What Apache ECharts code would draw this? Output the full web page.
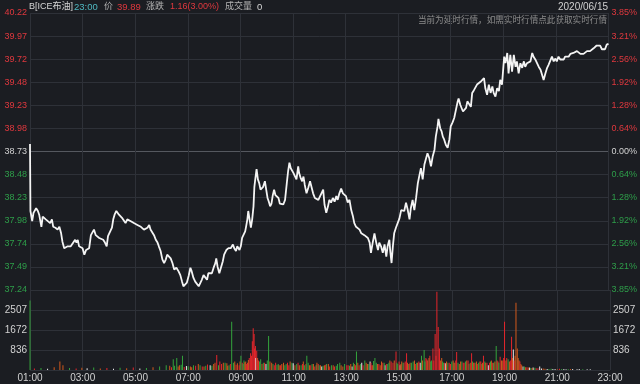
<!DOCTYPE html>
<html><head><meta charset="utf-8">
<script src="https://cdn.jsdelivr.net/npm/echarts@6/dist/echarts.min.js"></script>
<style>html,body{margin:0;padding:0;background:#1b1d22;}#c{width:640px;height:384px;}</style>
</head><body><div id="c"></div>
<script>
// ---- data ----
const prevClose = 38.73;
const priceTop = 40.22;
const timeLabels = ['01:00','03:00','05:00','07:00','09:00','11:00','13:00','15:00','17:00','19:00','21:00','23:00'];
const priceTickLabels = ['40.22','39.97','39.72','39.48','39.23','38.98','38.73','38.48','38.23','37.98','37.74','37.49','37.24'];
const pctTickLabels = ['3.85%','3.21%','2.56%','1.92%','1.28%','0.64%','0.00%','0.64%','1.28%','1.92%','2.56%','3.21%','3.85%'];
const volMax = 3343;
const volTickLabels = ['', '836', '1672', '2507', ''];
// [minutes after 01:00, price]
const priceData = [
[0,38.81],[1,38.09],[5,37.98],[8,38.07],[14,38.12],[18,38.09],[21,38.05],[26,37.92],[29,38.03],[33,38.05],[36,38.00],[40,38.01],[46,37.96],[50,38.00],[53,37.92],[58,37.91],[63,37.89],[67,37.92],[71,37.85],[74,37.76],[78,37.69],[82,37.67],[86,37.71],[90,37.69],[93,37.71],[97,37.69],[103,37.78],[106,37.75],[109,37.78],[112,37.71],[116,37.73],[120,37.69],[124,37.62],[128,37.67],[131,37.66],[135,37.69],[139,37.83],[143,37.82],[146,37.89],[150,37.83],[154,37.85],[158,37.80],[162,37.82],[167,37.78],[171,37.75],[175,37.71],[178,37.82],[182,37.83],[187,37.91],[190,38.00],[193,38.05],[197,38.09],[200,38.10],[203,38.05],[207,38.07],[211,38.01],[215,38.03],[218,37.96],[222,38.00],[226,38.02],[230,37.98],[234,38.00],[237,37.96],[241,37.98],[245,37.94],[249,37.96],[253,37.92],[256,37.92],[260,37.89],[264,37.87],[268,37.91],[272,37.94],[275,37.89],[279,37.91],[283,37.83],[287,37.78],[291,37.75],[294,37.71],[298,37.66],[302,37.57],[306,37.53],[310,37.57],[313,37.62],[317,37.64],[321,37.58],[325,37.53],[329,37.46],
[334,37.48],[339,37.44],[343,37.40],[347,37.33],[350,37.28],[354,37.26],[358,37.32],[362,37.39],[366,37.48],[369,37.44],[373,37.37],[377,37.33],[381,37.32],[385,37.28],[388,37.30],[392,37.35],[396,37.40],[400,37.39],[404,37.35],[407,37.42],[411,37.44],[415,37.42],[419,37.48],[423,37.53],[425,37.58],[428,37.49],[432,37.42],[435,37.44],[440,37.55],[443,37.62],[448,37.67],[453,37.69],[458,37.69],[463,37.73],[466,37.69],[470,37.66],[473,37.71],[478,37.67],[481,37.71],[484,37.80],[487,37.82],[491,37.87],[493,37.92],[496,38.00],[498,38.09],[501,38.00],[504,37.91],[507,38.00],[510,38.14],[512,38.35],[514,38.43],[517,38.54],[520,38.43],[523,38.39],[526,38.32],[529,38.30],[532,38.35],[536,38.41],[539,38.32],[542,38.23],[545,38.19],[548,38.14],[551,38.17],[554,38.26],[557,38.32],[560,38.26],[563,38.28],[567,38.23],[570,38.17],[574,38.19],[578,38.16],[582,38.21],[586,38.39],[589,38.52],[592,38.61],[595,38.55],[598,38.57],[601,38.50],[605,38.46],[608,38.43],[612,38.57],[614,38.50],[618,38.44],[621,38.41],[624,38.46],[627,38.37],[631,38.28],[635,38.34],[639,38.41],[643,38.43],[646,38.28],[650,38.23],[654,38.25],[658,38.21],[662,38.25],[665,38.28],[669,38.32],
[672,38.16],[676,38.07],[680,38.14],[683,38.21],[687,38.18],[691,38.23],[695,38.19],[699,38.25],[702,38.21],[706,38.28],[710,38.33],[714,38.28],[718,38.26],[721,38.25],[725,38.18],[729,38.21],[733,38.10],[737,38.03],[740,37.96],[744,37.92],[748,37.91],[752,37.89],[756,37.85],[759,37.87],[763,37.83],[767,37.82],[771,37.80],[775,37.75],[778,37.64],[782,37.75],[786,37.85],[790,37.75],[794,37.67],[797,37.75],[801,37.71],[805,37.64],[809,37.73],[813,37.60],[816,37.71],[820,37.78],[822,37.66],[825,37.53],[828,37.71],[831,37.85],[835,37.91],[839,37.89],[843,38.01],[847,38.10],[850,38.12],[854,38.09],[858,38.18],[862,38.10],[866,38.00],[869,38.12],[873,38.21],[877,38.10],[881,38.23],[885,38.39],[888,38.46],[892,38.55],[896,38.43],[900,38.59],[904,38.66],[907,38.71],[911,38.66],[915,38.57],[919,38.68],[923,38.75],[926,38.89],[930,39.00],[932,39.08],[936,38.98],[939,38.95],[942,38.89],[945,38.86],[949,38.80],[953,38.77],[957,38.86],[960,39.00],[964,39.04],[968,39.09],[972,39.18],[976,39.27],[978,39.30],[982,39.23],[985,39.21],[988,39.16],[992,39.14],[995,39.20],[998,39.27],[1002,39.25],[1006,39.21],
[1009,39.36],[1013,39.39],[1017,39.41],[1020,39.45],[1024,39.46],[1028,39.48],[1032,39.46],[1036,39.52],[1039,39.41],[1043,39.34],[1047,39.45],[1051,39.36],[1055,39.43],[1058,39.36],[1062,39.32],[1066,39.41],[1070,39.38],[1073,39.50],[1077,39.45],[1080,39.63],[1082,39.75],[1085,39.68],[1089,39.79],[1092,39.57],[1096,39.77],[1100,39.59],[1104,39.77],[1108,39.64],[1111,39.70],[1115,39.57],[1119,39.68],[1123,39.63],[1127,39.70],[1130,39.64],[1134,39.68],[1138,39.66],[1142,39.70],[1146,39.79],[1149,39.75],[1153,39.72],[1157,39.68],[1161,39.64],[1165,39.61],[1168,39.59],[1172,39.50],[1176,39.57],[1180,39.63],[1183,39.66],[1187,39.68],[1191,39.75],[1195,39.70],[1199,39.73],[1202,39.70],[1206,39.75],[1210,39.72],[1214,39.73],[1218,39.72],[1221,39.75],[1225,39.77],[1229,39.75],[1233,39.78],[1237,39.76],[1240,39.79],[1244,39.79],[1248,39.81],[1252,39.79],[1256,39.78],[1259,39.78],[1263,39.78],[1267,39.79],[1271,39.81],[1275,39.81],[1278,39.81],[1282,39.82],[1286,39.84],[1290,39.84],[1293,39.87],[1297,39.87],[1301,39.87],[1305,39.83],[1309,39.83],[1312,39.83],[1316,39.88],[1320,39.89]
];
// [minutes after 01:00, volume, kind]  kind: 1 up (red), -1 down (green), 0 flat (white), 2 mixed (orange)
const volumeData = [
[0,2900,-1],[10,60,1],[25,80,-1],[40,50,0],[55,120,2],[68,350,2],[75,200,2],[90,80,-1],[105,60,1],[118,90,2],[130,70,0],[145,100,-1],[160,60,2],[175,80,1],[190,50,0],[205,90,-1],[220,70,2],[235,100,1],[250,60,0],[265,80,-1],[280,120,2],[295,150,-1],[310,200,-1],[318,180,2],
[322,120,1],[329,180,-1],[337,150,2],[344,220,-1],[351,130,1],[360,160,-1],[368,120,2],[377,180,1],[387,200,-1],[396,150,2],[404,230,1],[414,180,-1],[421,300,2],[429,200,-1],[436,250,1],[444,300,-1],[450,180,2],[456,250,1],[463,300,-1],[469,220,1],[478,350,2],[483,300,1],[487,400,-1],[491,350,2],[495,300,1],[499,500,1],[504,600,1],[511,900,1],[518,500,2],[522,350,-1],[534,300,1],[540,400,-1],[546,350,2],[553,250,-1],[559,300,1],[565,250,-1],[570,200,1],[577,300,2],[583,250,-1],[589,200,1],[596,300,-1],[603,200,2],[610,300,1],[617,200,-1],[622,350,2],[628,250,1],[633,300,-1],[639,200,1],[645,250,2],[651,200,-1],[656,250,1],[661,200,2],
[326,450,-1],[334,500,-1],[340,200,2],[347,600,-1],[356,170,0],[365,150,2],[372,200,-1],[383,250,2],[392,150,1],[400,180,-1],[410,200,0],[418,250,2],[425,630,1],[432,350,1],[440,300,2],[448,280,2],[453,200,-1],[459,2020,-1],[466,350,2],[472,280,2],[476,200,1],[480,600,-1],[485,250,-1],[489,320,2],[493,250,1],[497,420,2],[502,700,1],[506,1200,1],[508,1740,1],[510,1500,1],[513,1000,1],[514,500,0],[516,800,1],[520,400,1],[525,450,-1],[528,250,2],[531,300,-1],[537,250,0],[543,1420,-1],[550,300,2],[556,200,1],[562,220,-1],[567,200,2],[573,250,2],[580,200,-1],[586,300,1],[592,350,2],[599,280,0],[607,250,-1],[613,200,2],[620,250,1],[625,200,-1],[630,600,-1],[636,200,2],[642,250,-1],[648,150,1],[653,300,2],[658,200,-1],
[664,150,0],[670,200,2],[675,250,-1],[682,150,1],[690,200,2],[697,180,-1],[705,300,-1],[712,150,2],[721,200,1],[727,180,-1],[733,150,0],[738,250,2],[743,770,-1],[749,200,1],[755,300,0],[762,400,-1],[768,250,2],[774,350,0],[778,200,1],[782,380,-1],[785,500,-1],[791,250,2],[797,200,2],[803,300,1],[808,200,0],[814,250,-1],[819,400,2],[826,300,1],[833,770,1],[837,250,-1],[842,200,0],[846,350,2],[851,300,1],[857,700,1],[861,250,-1],[865,300,2],[872,350,-1],[877,250,1],[882,300,2],[888,300,0],[891,600,-1],[897,840,-1],[901,500,1],[905,400,2],[910,600,1],[914,400,-1],[917,900,1],[922,1500,1],[926,3270,1],[929,1800,1],[932,900,1],[937,500,2],[941,300,-1],[945,280,0],[951,300,-1],[957,250,1],[963,400,2],[967,300,-1],[971,750,1],[977,250,2],[983,350,-1],[988,300,1],[994,400,2],[999,250,-1],[1005,700,1],[1009,300,2],[1013,300,-1],[1018,250,1],[1024,350,2],[1028,250,-1],[1032,600,1],[1037,300,2],[1043,200,0],[1046,300,1],[1050,400,2],[1055,300,-1],[1061,1000,-1],[1065,350,2],[1070,550,1],[1076,400,2],[1080,2020,1],[1085,500,1],[1091,350,2],[1096,1390,1],[1100,860,0],[1104,600,2],[1106,2810,2],[1109,900,2],[1113,400,2],[1117,250,2],[1122,150,0],[1128,120,2],[1134,100,2],[1140,80,-1],[1145,100,0],[1152,70,1],[1160,150,0],[1168,60,2],[1177,40,0],[1186,50,-1],[1195,40,0],[1205,50,1],[1215,40,0],[1225,30,-1],[1235,40,0],[1250,40,0],[1268,30,0],
[667,180,-1],[673,220,1],[679,250,2],[686,200,-1],[693,150,1],[700,250,-1],[708,200,2],[716,250,-1],[724,200,1],[730,250,2],[736,300,-1],[741,200,1],[746,300,2],[752,250,-1],[758,200,1],[765,300,2],[771,250,-1],[776,300,1],[780,200,2],[788,300,-1],[794,250,1],[800,350,2],[806,300,-1],[811,250,1],[817,300,-1],[822,350,1],[829,400,2],[835,300,-1],[840,350,1],[844,250,2],[849,300,-1],[854,350,1],[859,300,2],[863,250,1],[868,300,-1],[875,400,2],[880,300,-1],[885,350,1],[893,400,2],[899,350,-1],[903,450,1],[908,500,2],[912,350,-1],[919,400,1],[924,600,1],[934,400,2],[939,350,-1],[943,300,1],[948,350,2],[954,300,1],[960,350,-1],[965,300,2],[969,400,1],[974,300,-1],[980,350,2],[986,300,1],[991,350,-1],[997,400,1],[1002,300,2],[1007,350,-1],[1011,300,1],[1016,350,2],[1021,300,-1],[1026,350,1],[1030,300,2],[1035,350,-1],[1040,300,1],[1048,350,-1],[1053,300,1],[1058,350,2],[1063,400,1],[1067,300,-1],[1073,400,2],[1078,500,1],[1083,400,2],[1088,450,-1],[1094,400,1],[1098,500,2],[1102,400,1],[1111,500,2],[1115,350,1],[1119,200,2],[1125,150,-1],[1131,120,1],[1137,100,0],[1143,80,2],[1149,90,-1],[1156,70,1],[1164,60,0],[1172,50,2],[1181,40,-1],[1190,40,0],[1200,30,2],[1210,40,-1],[1220,30,0],[1230,40,2],[1245,30,0],[1258,30,-1],[1275,30,0]
];

// ---- chart ----
const RED = '#e0383e', GREEN = '#2e9e4a', NEUTRAL = '#d2d2d2';
const BG = '#1b1d22', GRID = '#2e3138';
const step = (priceTop - prevClose) / 6;
const kindColor = {1: '#e5262c', '-1': '#34a43c', 0: '#e8e8e8', 2: '#d2591c'};
const chart = echarts.init(document.getElementById('c'), null, {renderer: 'canvas'});
const splitColors = priceTickLabels.map((_, i) => i === 6 ? '#55585f' : GRID);
const labelColor = v => v > 0.01 ? RED : (v < -0.01 ? GREEN : NEUTRAL);
const LATIN = '"Liberation Sans", Arial, "Noto Sans CJK SC", sans-serif';
const xBase = {
  type: 'value', min: 0, max: 1320, interval: 120,
  axisLine: {show: false}, axisTick: {show: false},
  splitLine: {show: true, lineStyle: {color: GRID, width: 1}}
};
chart.setOption({
  backgroundColor: BG,
  animation: false,
  grid: [
    {left: 30, right: 30, top: 13, height: 277},
    {left: 30, right: 30, top: 290, height: 80}
  ],
  xAxis: [
    Object.assign({gridIndex: 0, axisLabel: {show: false}}, xBase),
    Object.assign({gridIndex: 1, axisLabel: {show: true, color: NEUTRAL, fontSize: 10, margin: 3,
      fontFamily: LATIN, formatter: v => timeLabels[Math.round(v / 120)] || ''}}, xBase)
  ],
  yAxis: [
    {type: 'value', gridIndex: 0, position: 'left', min: -6, max: 6, interval: 1,
     axisLine: {show: false}, axisTick: {show: false},
     splitLine: {show: true, lineStyle: {color: splitColors, width: 1}},
     axisLabel: {fontSize: 9, margin: 3, fontFamily: LATIN,
       color: v => labelColor(v), formatter: v => priceTickLabels[6 - Math.round(v)]}},
    {type: 'value', gridIndex: 0, position: 'right', min: -6, max: 6, interval: 1,
     axisLine: {show: false}, axisTick: {show: false}, splitLine: {show: false},
     axisLabel: {fontSize: 9, margin: 3, fontFamily: LATIN,
       color: v => labelColor(v), formatter: v => pctTickLabels[6 - Math.round(v)]}},
    {type: 'value', gridIndex: 1, position: 'left', min: 0, max: volMax, interval: volMax / 4,
     axisLine: {show: false}, axisTick: {show: false},
     splitLine: {show: true, lineStyle: {color: GRID, width: 1}},
     axisLabel: {fontSize: 10, margin: 3, color: NEUTRAL, fontFamily: LATIN,
       formatter: v => volTickLabels[Math.round(v / (volMax / 4))] || ''}},
    {type: 'value', gridIndex: 1, position: 'right', min: 0, max: volMax, interval: volMax / 4,
     axisLine: {show: false}, axisTick: {show: false}, splitLine: {show: false},
     axisLabel: {fontSize: 10, margin: 3, color: NEUTRAL, fontFamily: LATIN,
       formatter: v => volTickLabels[Math.round(v / (volMax / 4))] || ''}}
  ],
  series: [
    {type: 'line', xAxisIndex: 0, yAxisIndex: 0, showSymbol: false, symbol: 'none',
     lineStyle: {color: '#f4f4f4', width: 1.8},
     data: priceData.map(d => [d[0], (d[1] - prevClose) / step])},
    {type: 'bar', xAxisIndex: 1, yAxisIndex: 2, barWidth: 1,
     data: volumeData.map(d => ({value: [d[0], d[1]], itemStyle: {color: kindColor[d[2]]}}))}
  ],
  graphic: [
    {type: 'text', x: 29, y: 7, style: {text: 'B[ICE布油]', fill: '#d6d6d6', font: '9px ' + LATIN, verticalAlign: 'middle'}},
    {type: 'text', x: 74, y: 7, style: {text: '23:00', fill: '#4fb8c0', font: '9.5px ' + LATIN, verticalAlign: 'middle'}},
    {type: 'text', x: 104, y: 7, style: {text: '价', fill: '#b4b4b4', font: '9px ' + LATIN, verticalAlign: 'middle'}},
    {type: 'text', x: 117, y: 7, style: {text: '39.89', fill: RED, font: '9.5px ' + LATIN, verticalAlign: 'middle'}},
    {type: 'text', x: 146, y: 7, style: {text: '涨跌', fill: '#b4b4b4', font: '9px ' + LATIN, verticalAlign: 'middle'}},
    {type: 'text', x: 170, y: 7, style: {text: '1.16(3.00%)', fill: RED, font: '9px ' + LATIN, verticalAlign: 'middle'}},
    {type: 'text', x: 225, y: 7, style: {text: '成交量', fill: '#b4b4b4', font: '9px ' + LATIN, verticalAlign: 'middle'}},
    {type: 'text', x: 257, y: 7, style: {text: '0', fill: '#d6d6d6', font: '9.5px ' + LATIN, verticalAlign: 'middle'}},
    {type: 'text', x: 608, y: 7, style: {text: '2020/06/15', fill: '#d0d0d0', font: '10px ' + LATIN, align: 'right', verticalAlign: 'middle'}},
    {type: 'text', x: 607, y: 20, style: {text: '当前为延时行情，如需实时行情点此获取实时行情', fill: '#8c8c8c', font: '8.6px "Noto Sans CJK SC"', align: 'right', verticalAlign: 'middle'}}
  ]
});
</script></body></html>
